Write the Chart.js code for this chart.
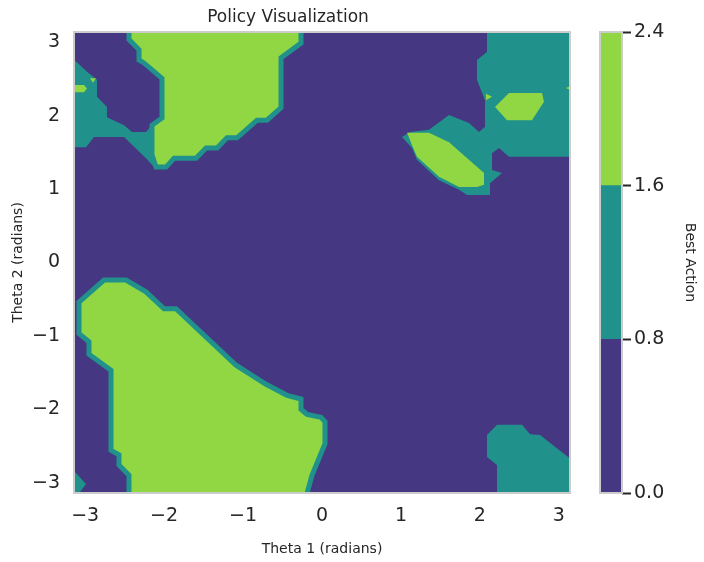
<!DOCTYPE html>
<html><head><meta charset="utf-8">
<script src="https://cdn.jsdelivr.net/npm/chart.js@4.4.1/dist/chart.umd.min.js"></script>
<style>body{margin:0;background:#fff}#w{position:relative;width:704px;height:562px}canvas{position:absolute;top:0}</style>
</head><body><div id="w"><div style="position:absolute;left:0;top:0;width:704px;height:562px"><canvas id="m"></canvas></div><div style="position:absolute;left:590px;top:0;width:114px;height:562px"><canvas id="c"></canvas></div></div>
<script>
const PI = Math.PI;
const axisTicks = [-3,-2,-1,0,1,2,3];
const actionLevels = [0, 0.8, 1.6, 2.4];
const levelColors = ['#453781','#21918c','#90d743'];
// regions: [action, stroked, polygon [theta1, theta2]...]
const tealLeft = [[-3.142,2.76],[-3.104,2.73],[-2.977,2.60],[-2.850,2.49],[-2.850,2.26],[-2.724,2.12],[-2.724,1.98],[-2.508,1.87],[-2.407,1.78],[-2.230,1.78],[-2.116,1.92],[-2.027,1.97],[-2.027,1.40],[-2.128,1.30],[-2.230,1.42],[-2.508,1.71],[-2.888,1.71],[-2.990,1.57],[-3.142,1.57]];
const greenTopLeft = [[-2.445,3.2],[-2.445,3.04],[-2.318,2.90],[-2.318,2.76],[-2.255,2.72],[-2.027,2.51],[-2.027,1.97],[-2.154,1.87],[-2.154,1.47],[-2.103,1.30],[-1.976,1.30],[-1.875,1.42],[-1.596,1.42],[-1.469,1.56],[-1.330,1.56],[-1.203,1.70],[-1.077,1.70],[-0.823,1.94],[-0.697,1.94],[-0.519,2.11],[-0.519,2.79],[-0.266,2.99],[-0.266,3.2]];
const greenDot1 = [[-3.2,2.42],[-3.015,2.42],[-2.977,2.37],[-3.015,2.32],[-3.2,2.32]];
const greenDot2 = [[-2.939,2.51],[-2.863,2.51],[-2.901,2.45]];
const tealTopRight = [[2.090,3.2],[3.2,3.2],[3.2,1.44],[2.369,1.44],[2.242,1.56],[2.154,1.49],[2.154,1.26],[2.280,1.22],[2.128,1.08],[2.128,0.92],[1.837,0.92],[1.736,0.99],[1.482,1.12],[1.203,1.40],[1.140,1.56],[1.013,1.71],[1.115,1.78],[1.355,1.81],[1.609,2.01],[1.862,1.90],[1.989,1.78],[2.065,1.85],[2.065,2.21],[1.963,2.49],[1.963,2.76],[2.090,2.87]];
const greenMidRight = [[1.077,1.77],[1.355,1.77],[1.609,1.64],[2.052,1.22],[2.052,1.06],[1.963,1.03],[1.736,1.03],[1.482,1.17],[1.203,1.44],[1.140,1.60]];
const greenTopRight = [[2.369,2.31],[2.787,2.31],[2.812,2.19],[2.660,1.94],[2.344,1.94],[2.192,2.12]];
const greenDot3 = [[2.077,2.30],[2.154,2.26],[2.077,2.21]];
const greenDot4 = [[3.2,2.43],[3.091,2.38],[3.2,2.32]];
const greenBottomLeft = [[-2.762,-0.24],[-2.483,-0.24],[-2.230,-0.40],[-2.001,-0.63],[-1.850,-0.63],[-1.089,-1.40],[-0.709,-1.66],[-0.443,-1.81],[-0.266,-1.86],[-0.266,-2.00],[-0.190,-2.07],[-0.013,-2.11],[0.038,-2.17],[0.038,-2.47],[-0.127,-2.90],[-0.228,-3.3],[-2.445,-3.3],[-2.445,-2.90],[-2.572,-2.76],[-2.572,-2.62],[-2.673,-2.56],[-2.673,-1.47],[-2.952,-1.25],[-2.952,-1.08],[-3.078,-0.97],[-3.078,-0.54]];
const tealBottomLeft = [[-3.2,-2.77],[-2.990,-3.02],[-3.116,-3.2],[-3.2,-3.2]];
const tealBottomRight = [[2.217,-2.21],[2.534,-2.21],[2.635,-2.34],[2.762,-2.35],[3.2,-2.72],[3.2,-3.2],[2.217,-3.2],[2.217,-2.76],[2.090,-2.65],[2.090,-2.35]];
const regions = [
  [1,false,tealLeft],[1,false,tealTopRight],[1,false,tealBottomLeft],[1,false,tealBottomRight],
  [2,true,greenTopLeft],[2,false,greenDot1],[2,false,greenDot2],[2,false,greenMidRight],
  [2,false,greenTopRight],[2,false,greenDot3],[2,false,greenDot4],[2,true,greenBottomLeft]
];
const fmt = v => String(v).replace('-', '\u2212');
const tickFont = {family:'DejaVu Sans', size:19};
const contour = {
  id:'contour',
  beforeDatasetsDraw(ch){
    const {ctx, chartArea:a, scales:{x,y}} = ch;
    ctx.save();
    ctx.beginPath(); ctx.rect(a.left,a.top,a.width,a.height); ctx.clip();
    ctx.fillStyle = levelColors[0]; ctx.fillRect(a.left,a.top,a.width,a.height);
    for (const [act, stroked, poly] of regions){
      ctx.beginPath();
      poly.forEach(([t1,t2],i)=>{const px=x.getPixelForValue(t1),py=y.getPixelForValue(t2); i?ctx.lineTo(px,py):ctx.moveTo(px,py);});
      ctx.closePath();
      ctx.fillStyle = levelColors[act]; ctx.fill();
      if (stroked){ctx.strokeStyle=levelColors[1]; ctx.lineWidth=5; ctx.lineJoin='miter'; ctx.stroke();}
    }
    ctx.restore();
  },
  afterDraw(ch){
    const {ctx, chartArea:a} = ch;
    ctx.save(); ctx.strokeStyle='#cccccc'; ctx.lineWidth=2;
    ctx.strokeRect(a.left,a.top,a.width,a.height); ctx.restore();
  }
};
new Chart(document.getElementById('m'), {
  type:'scatter',
  data:{datasets:[{data:[]}]},
  plugins:[contour],
  options:{
    responsive:true, maintainAspectRatio:false, animation:false,
    layout:{padding:{left:6,right:134,top:0,bottom:0}},
    plugins:{legend:{display:false}, tooltip:{enabled:false},
      title:{display:true,text:'Policy Visualization',color:'#262626',font:{family:'DejaVu Sans',size:17,weight:'normal'},padding:{top:7,bottom:4.6}}},
    scales:{
      x:{type:'linear',min:-PI,max:PI,
        afterBuildTicks:s=>{s.ticks=axisTicks.map(v=>({value:v}));},
        afterFit:s=>{s.height=69;},
        grid:{display:false}, border:{display:false},
        ticks:{color:'#262626',font:tickFont,callback:fmt,padding:4,maxRotation:0},
        title:{display:true,text:'Theta 1 (radians)',color:'#262626',font:{family:'DejaVu Sans',size:14},padding:{top:2}}},
      y:{type:'linear',min:-PI,max:PI,
        afterBuildTicks:s=>{s.ticks=axisTicks.map(v=>({value:v}));},
        afterFit:s=>{s.width=68;},
        grid:{display:false}, border:{display:false},
        ticks:{color:'#262626',font:tickFont,callback:fmt,padding:6},
        title:{display:true,text:'Theta 2 (radians)',color:'#262626',font:{family:'DejaVu Sans',size:14},padding:{bottom:2}}}
    }
  }
});
const cbFrame = {id:'cbf', afterDatasetsDraw(ch){const {ctx,chartArea:a}=ch;ctx.save();ctx.strokeStyle='#cccccc';ctx.lineWidth=2;ctx.strokeRect(a.left,a.top,a.width,a.height);ctx.restore();}};
new Chart(document.getElementById('c'), {
  type:'bar',
  data:{labels:['a'], datasets: levelColors.map((c,i)=>({data:[actionLevels[i+1]-actionLevels[i]],backgroundColor:c,barPercentage:1,categoryPercentage:1,borderWidth:0}))},
  plugins:[cbFrame],
  options:{
    responsive:true, maintainAspectRatio:false, animation:false,
    layout:{padding:{left:10,right:0,top:32,bottom:69}},
    plugins:{legend:{display:false}, tooltip:{enabled:false}},
    scales:{
      x:{display:false, stacked:true},
      y:{stacked:true, position:'right', min:0, max:2.4,
        afterBuildTicks:s=>{s.ticks=actionLevels.map(v=>({value:v}));},
        afterFit:s=>{s.width=82;},
        border:{display:false},
        grid:{drawOnChartArea:false, drawTicks:true, tickLength:9, tickWidth:2, color:'#262626'},
        ticks:{color:'#262626',font:tickFont,padding:3,callback:v=>v.toFixed(1)},
        title:{display:true,text:'Best Action',color:'#262626',font:{family:'DejaVu Sans',size:14},padding:{top:6}}}
    }
  }
});
</script></body></html>
